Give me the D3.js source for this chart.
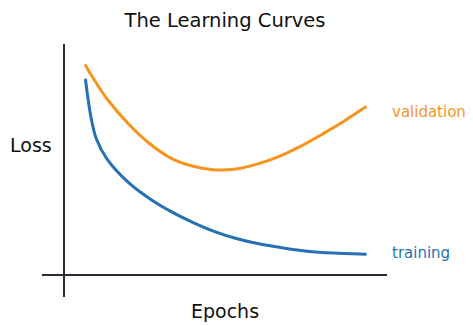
<!DOCTYPE html>
<html>
<head>
<meta charset="utf-8">
<script src="https://cdn.jsdelivr.net/npm/d3@7"></script>
<style>
html,body{margin:0;padding:0;background:#fff;}
svg{display:block;}
text{font-family:"DejaVu Sans", sans-serif;}
</style>
</head>
<body>
<svg id="chart" width="473" height="326"></svg>
<script>
const epochs = [1, 1.25, 1.5, 2, 3, 4, 5, 6, 7, 8, 9, 10, 11, 12, 13, 14];
const trainingLoss = [8.44, 6.85, 5.90, 5.02, 4.00, 3.29, 2.73, 2.27, 1.88, 1.58, 1.36, 1.20, 1.06, 0.97, 0.93, 0.90];
const validationLoss = [9.07, 8.68, 8.31, 7.62, 6.54, 5.67, 5.04, 4.71, 4.55, 4.59, 4.81, 5.14, 5.58, 6.10, 6.66, 7.27];
const seriesNames = ["training", "validation"];
const titleText = "The Learning Curves";
const xLabel = "Epochs";
const yLabel = "Loss";

const svg = d3.select("#chart");
const x = d3.scaleLinear().domain([0, 15]).range([64, 387]);
const y = d3.scaleLinear().domain([0, 10]).range([275, 44]);

const axisColor = "#2b2b38";
const colors = {training: "#2671b4", validation: "#f7931e"};

// axes (drawn as plain cross lines, no ticks)
svg.append("line").attr("x1", 42).attr("x2", 387).attr("y1", y(0)).attr("y2", y(0))
  .attr("stroke", axisColor).attr("stroke-width", 2);
svg.append("line").attr("x1", x(0)).attr("x2", x(0)).attr("y1", 44).attr("y2", 297)
  .attr("stroke", axisColor).attr("stroke-width", 2);

const line = d3.line().curve(d3.curveCatmullRom.alpha(0.5));
const series = {
  training: epochs.map((e, i) => [x(e), y(trainingLoss[i])]),
  validation: epochs.map((e, i) => [x(e), y(validationLoss[i])])
};
seriesNames.forEach(name => {
  svg.append("path").attr("d", line(series[name])).attr("fill", "none")
    .attr("stroke", colors[name]).attr("stroke-width", 3).attr("stroke-linecap", "round");
});

// series labels
svg.append("text").attr("x", 392).attr("y", 117).attr("fill", colors.validation)
  .attr("font-size", 15).text("validation");
svg.append("text").attr("x", 392).attr("y", 258).attr("fill", colors.training)
  .attr("font-size", 15).text("training");

// titles
svg.append("text").attr("x", 225).attr("y", 27).attr("text-anchor", "middle")
  .attr("font-size", 19.5).attr("fill", "#111").text(titleText);
svg.append("text").attr("x", 225).attr("y", 318).attr("text-anchor", "middle")
  .attr("font-size", 19).attr("fill", "#111").text(xLabel);
svg.append("text").attr("x", 10).attr("y", 152)
  .attr("font-size", 19).attr("fill", "#111").text(yLabel);
</script>
</body>
</html>
